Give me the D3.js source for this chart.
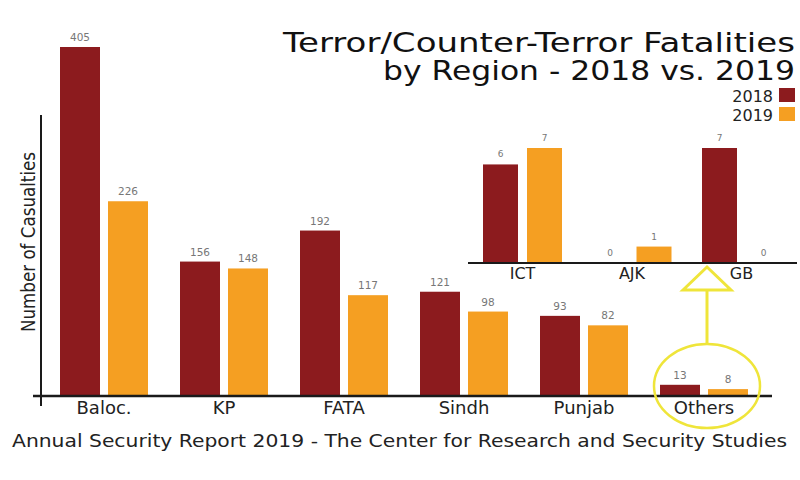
<!DOCTYPE html>
<html lang="en">
<head>
  <meta charset="UTF-8">
  <title>Fatalities by Region</title>
  <script src="https://d3js.org/d3.v7.min.js"></script>
  <style>
    body { margin: 0; background: #fff; }
    text { font-family: "DejaVu Sans", sans-serif; }
  </style>
</head>
<body>
  <div id="chart"></div>
  <script>
    // data
    const regions = ["Baloc.", "KP", "FATA", "Sindh", "Punjab", "Others"];
    const years = ["2018", "2019"];
    const fatal2018 = [405, 156, 192, 121, 93, 13];
    const fatal2019 = [226, 148, 117, 98, 82, 8];

    const otherRegions = ["ICT", "AJK", "GB"];
    const other2018 = [6, 0, 7];
    const other2019 = [7, 1, 0];

    const colors = { "2018": "#8c1b1e", "2019": "#f59f22" };
    const W = 800, H = 480;
    const font = "'DejaVu Sans', sans-serif";

    const svg = d3.select("#chart").append("svg")
      .attr("width", W).attr("height", H);

    // main chart
    const x0 = d3.scaleBand().domain(regions).range([60, 748]).paddingInner(32 / 120).paddingOuter(0);
    const x1 = d3.scaleBand().domain(years).range([0, x0.bandwidth()]).paddingInner(1 / 6);
    const y = d3.scaleLinear().domain([0, 405]).range([396, 47]);

    const mainData = regions.map((r, i) => ({ region: r, values: [
      { year: "2018", v: fatal2018[i] }, { year: "2019", v: fatal2019[i] }] }));

    const groups = svg.append("g").selectAll("g")
      .data(mainData).join("g")
      .attr("transform", d => `translate(${x0(d.region)},0)`);

    groups.selectAll("rect").data(d => d.values).join("rect")
      .attr("x", d => x1(d.year))
      .attr("y", d => y(d.v))
      .attr("width", x1.bandwidth())
      .attr("height", d => y(0) - y(d.v))
      .attr("fill", d => colors[d.year]);

    groups.selectAll("text").data(d => d.values).join("text")
      .attr("x", d => x1(d.year) + x1.bandwidth() / 2)
      .attr("y", d => y(d.v) - 6)
      .attr("text-anchor", "middle")
      .attr("font-size", 10.5)
      .attr("fill", "#777")
      .text(d => d.v);

    // x axis (labels only, line drawn separately)
    const xAxis = svg.append("g")
      .attr("transform", `translate(0,${y(0)})`)
      .call(d3.axisBottom(x0).tickSize(0).tickPadding(5));
    xAxis.select(".domain").remove();
    xAxis.selectAll("text").attr("font-size", 18).attr("fill", "#222")
      .style("font-family", font);

    svg.append("line")
      .attr("x1", 33).attr("x2", 772).attr("y1", y(0)).attr("y2", y(0))
      .attr("stroke", "#1a1a1a").attr("stroke-width", 2.5);
    svg.append("line")
      .attr("x1", 41).attr("x2", 41).attr("y1", 115).attr("y2", 406)
      .attr("stroke", "#1a1a1a").attr("stroke-width", 2);

    svg.append("text")
      .attr("transform", "translate(35,242) rotate(-90)")
      .attr("text-anchor", "middle")
      .attr("font-size", 19)
      .attr("fill", "#222")
      .attr("textLength", 180)
      .attr("lengthAdjust", "spacingAndGlyphs")
      .text("Number of Casualties");

    // inset chart
    const ix0 = d3.scaleBand().domain(otherRegions).range([483, 781]).paddingInner(30.5 / 109.5).paddingOuter(0);
    const ix1 = d3.scaleBand().domain(years).range([0, ix0.bandwidth()]).paddingInner(2 - 79 / 44);
    const iy = d3.scaleLinear().domain([0, 7]).range([263, 148]);

    const insetData = otherRegions.map((r, i) => ({ region: r, values: [
      { year: "2018", v: other2018[i] }, { year: "2019", v: other2019[i] }] }));

    const igroups = svg.append("g").selectAll("g")
      .data(insetData).join("g")
      .attr("transform", d => `translate(${ix0(d.region)},0)`);

    igroups.selectAll("rect").data(d => d.values).join("rect")
      .attr("x", d => ix1(d.year))
      .attr("y", d => iy(d.v))
      .attr("width", ix1.bandwidth())
      .attr("height", d => iy(0) - iy(d.v))
      .attr("fill", d => colors[d.year]);

    igroups.selectAll("text").data(d => d.values).join("text")
      .attr("x", d => ix1(d.year) + ix1.bandwidth() / 2)
      .attr("y", d => iy(d.v) - 7)
      .attr("text-anchor", "middle")
      .attr("font-size", 9)
      .attr("fill", "#777")
      .text(d => d.v);

    const ixAxis = svg.append("g")
      .attr("transform", `translate(0,${iy(0)})`)
      .call(d3.axisBottom(ix0).tickSize(0).tickPadding(5));
    ixAxis.select(".domain").remove();
    ixAxis.selectAll("text").attr("font-size", 16).attr("fill", "#222")
      .style("font-family", font);

    svg.append("line")
      .attr("x1", 468).attr("x2", 797).attr("y1", iy(0)).attr("y2", iy(0))
      .attr("stroke", "#1a1a1a").attr("stroke-width", 2);

    // yellow callout
    const yellow = "#efe53a";
    const cx = x0("Others") + x0.bandwidth() / 2 + 3;
    svg.append("ellipse")
      .attr("cx", cx).attr("cy", 386).attr("rx", 53).attr("ry", 42)
      .attr("fill", "none").attr("stroke", yellow).attr("stroke-width", 2.5);
    svg.append("line")
      .attr("x1", cx).attr("x2", cx).attr("y1", 344).attr("y2", 290)
      .attr("stroke", yellow).attr("stroke-width", 3);
    svg.append("path")
      .attr("d", `M${cx - 24},290 L${cx},267 L${cx + 24},290 Z`)
      .attr("fill", "none").attr("stroke", yellow).attr("stroke-width", 3)
      .attr("stroke-linejoin", "miter");

    // title
    const title = svg.append("text")
      .attr("text-anchor", "end")
      .attr("font-size", 27)
      .attr("fill", "#111");
    title.append("tspan").attr("x", 795).attr("y", 52)
      .attr("textLength", 512).attr("lengthAdjust", "spacingAndGlyphs")
      .text("Terror/Counter-Terror Fatalities");
    title.append("tspan").attr("x", 795).attr("y", 80)
      .attr("textLength", 412).attr("lengthAdjust", "spacingAndGlyphs")
      .text("by Region - 2018 vs. 2019");

    // legend
    const legend = svg.append("g").selectAll("g")
      .data(years).join("g")
      .attr("transform", (d, i) => `translate(0,${88 + i * 19})`);
    legend.append("rect")
      .attr("x", 779).attr("y", 0).attr("width", 16).attr("height", 14)
      .attr("fill", d => colors[d]);
    legend.append("text")
      .attr("x", 773).attr("y", 14)
      .attr("text-anchor", "end")
      .attr("font-size", 16)
      .attr("fill", "#222")
      .text(d => d);

    // footer
    svg.append("text")
      .attr("x", 12).attr("y", 447)
      .attr("font-size", 17)
      .attr("fill", "#222")
      .attr("textLength", 775).attr("lengthAdjust", "spacingAndGlyphs")
      .text("Annual Security Report 2019 - The Center for Research and Security Studies");
  </script>
</body>
</html>
